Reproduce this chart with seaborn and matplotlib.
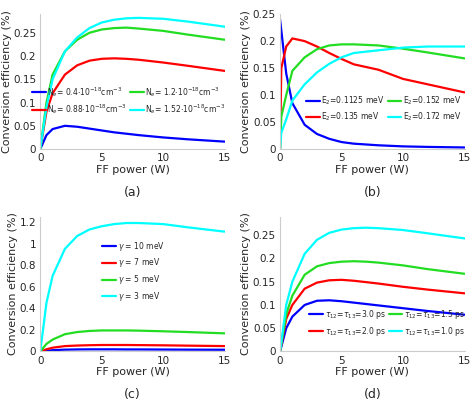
import matplotlib
matplotlib.use("Agg")
import matplotlib.pyplot as plt
import seaborn as sns

x = [0, 0.5, 1, 2, 3, 4, 5, 6, 7, 8, 10, 12, 15]
xb = [0, 0.1, 0.5, 1, 2, 3, 4, 5, 6, 8, 10, 12, 15]

a_labels = [r"N$_e$= 0.4$\cdot$10$^{-18}$cm$^{-3}$", r"N$_e$= 0.88$\cdot$10$^{-18}$cm$^{-3}$",
            r"N$_e$= 1.2$\cdot$10$^{-18}$cm$^{-3}$", r"N$_e$= 1.52$\cdot$10$^{-18}$cm$^{-3}$"]
a_blue = [0, .03, .043, .05, .048, .044, .04, .036, .033, .03, .025, .021, .016]
a_red = [0, .08, .12, .16, .18, .19, .194, .195, .194, .192, .186, .179, .168]
a_green = [0, .1, .16, .21, .235, .25, .257, .26, .261, .259, .254, .246, .235]
a_cyan = [0, .09, .15, .21, .24, .26, .272, .278, .281, .282, .28, .274, .263]

b_labels = ["E$_2$=0.1125 meV", "E$_2$=0.135 meV", "E$_2$=0.152 meV", "E$_2$=0.172 meV"]
b_blue = [.24, .22, .14, .085, .045, .028, .019, .013, .01, .007, .005, .004, .003]
b_red = [0, .15, .19, .205, .2, .19, .178, .167, .157, .147, .13, .12, .105]
b_green = [0, .06, .1, .145, .17, .185, .192, .194, .194, .192, .186, .179, .168]
b_cyan = [0, .03, .055, .09, .12, .142, .158, .17, .178, .183, .188, .19, .19]

c_labels = [r"$\gamma$ = 10 meV", r"$\gamma$ = 7 meV", r"$\gamma$ = 5 meV", r"$\gamma$ = 3 meV"]
c_blue = [0, .007, .012, .017, .019, .02, .02, .02, .019, .019, .018, .017, .016]
c_red = [0, .02, .035, .05, .055, .058, .06, .06, .06, .059, .057, .054, .05]
c_green = [0, .07, .11, .16, .18, .19, .195, .195, .195, .193, .187, .18, .168]
c_cyan = [0, .45, .7, .95, 1.07, 1.13, 1.16, 1.18, 1.19, 1.19, 1.18, 1.15, 1.11]

d_labels = [r"$\tau_{12}$=$\tau_{13}$=3.0 ps", r"$\tau_{12}$=$\tau_{13}$=2.0 ps",
            r"$\tau_{12}$=$\tau_{13}$=1.5 ps", r"$\tau_{12}$=$\tau_{13}$=1.0 ps"]
d_blue = [0, .05, .075, .1, .109, .11, .108, .105, .102, .099, .093, .087, .079]
d_red = [0, .07, .1, .135, .148, .153, .154, .152, .149, .146, .139, .133, .125]
d_green = [0, .08, .12, .165, .183, .19, .193, .194, .193, .191, .185, .177, .167]
d_cyan = [0, .1, .15, .21, .24, .255, .262, .265, .266, .265, .261, .254, .243]

colors = ["blue", "red", "#22dd22", "cyan"]

sns.set_style("white")
plt.rcParams["font.family"] = ["DejaVu Sans"]

fig, axes = plt.subplots(2, 2, figsize=(4.74, 4.04), dpi=100)
plt.subplots_adjust(left=0.085, right=0.98, top=0.965, bottom=0.13, wspace=0.3, hspace=0.5)

t25 = [0, .05, .1, .15, .2, .25]
t25l = ["0", "0.05", "0.1", "0.15", "0.2", "0.25"]
panels = [
    (axes[0, 0], x, [a_blue, a_red, a_green, a_cyan], a_labels, t25, t25l, (0, .29), "(a)",
     dict(loc="center right", bbox_to_anchor=(1.04, 0.36), ncol=2)),
    (axes[0, 1], xb, [b_blue, b_red, b_green, b_cyan], b_labels, t25, t25l, (0, .25), "(b)",
     dict(loc="center right", bbox_to_anchor=(1.02, 0.3), ncol=2)),
    (axes[1, 0], x, [c_blue, c_red, c_green, c_cyan], c_labels,
     [0, .2, .4, .6, .8, 1, 1.2], ["0", "0.2", "0.4", "0.6", "0.8", "1", "1.2"], (0, 1.25), "(c)",
     dict(loc="upper left", bbox_to_anchor=(0.3, 0.88), ncol=1)),
    (axes[1, 1], x, [d_blue, d_red, d_green, d_cyan], d_labels, t25, t25l, (0, .29), "(d)",
     dict(loc="lower right", bbox_to_anchor=(1.04, 0.05), ncol=2)),
]

for ax, xs, ys, labels, yt, ytl, ylim, cap, leg in panels:
    for yv, col, lab in zip(ys, colors, labels):
        sns.lineplot(x=xs, y=yv, color=col, lw=1.6, label=lab, ax=ax)
    ax.set_xlim(0, 15)
    ax.set_ylim(*ylim)
    ax.set_xticks([0, 5, 10, 15])
    ax.set_yticks(yt)
    ax.set_yticklabels(ytl)
    ax.tick_params(labelsize=7.5, length=2, pad=1)
    for s in ["top", "right"]:
        ax.spines[s].set_visible(False)
    for s in ["left", "bottom"]:
        ax.spines[s].set_color("#cccccc")
    ax.set_xlabel("FF power (W)", fontsize=8, labelpad=1)
    ax.set_ylabel("Conversion efficiency (%)", fontsize=8, labelpad=1)
    ax.text(0.5, -0.32, cap, transform=ax.transAxes, ha="center", va="center", fontsize=9)
    ax.legend(frameon=False, fontsize=5.5, handlelength=1.8, columnspacing=0.4,
              handletextpad=0.2, labelspacing=0.5, **leg)

fig.savefig("out.png", dpi=100)
